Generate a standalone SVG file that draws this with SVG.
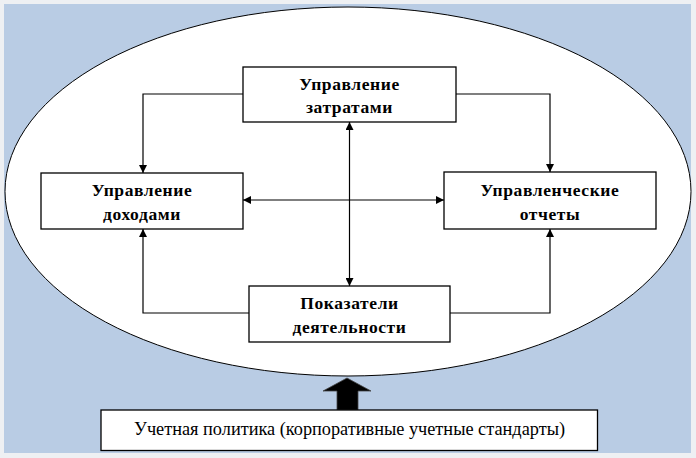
<svg xmlns="http://www.w3.org/2000/svg" width="696" height="458" viewBox="0 0 696 458">
<defs>
<style>
.box{fill:#fff;stroke:#000;stroke-width:1.3}
.lbl{font-weight:bold;font-size:17.5px;fill:#000;text-anchor:middle;letter-spacing:0.6px}
.pol{font-size:18.3px;fill:#000;text-anchor:middle}
.ln{fill:none;stroke:#000;stroke-width:1.2}
</style>
<marker id="ah" viewBox="0 0 10 10" refX="10" refY="5" markerWidth="8" markerHeight="8" markerUnits="userSpaceOnUse" orient="auto-start-reverse">
<path d="M0,0 L10,5 L0,10 Z" fill="#000"/>
</marker>
</defs>
<rect x="0" y="0" width="696" height="458" fill="#eef0f3"/>
<rect x="4" y="4" width="687" height="449" fill="#b9cce4"/>
<ellipse id="scope" cx="348" cy="191.5" rx="343" ry="184.5" fill="#fff" stroke="#000" stroke-width="1"/>
<g id="connectors">
<path class="ln" d="M243,94 H143 V173" marker-end="url(#ah)"/>
<path class="ln" d="M456,94 H550 V172" marker-end="url(#ah)"/>
<path class="ln" d="M349.5,122 V286" marker-start="url(#ah)" marker-end="url(#ah)"/>
<path class="ln" d="M243,200 H444" marker-start="url(#ah)" marker-end="url(#ah)"/>
<path class="ln" d="M249,313 H143 V229" marker-end="url(#ah)"/>
<path class="ln" d="M450,313 H550 V229" marker-end="url(#ah)"/>
<polygon points="347,378 371,391 358,391 358,410 337,410 337,391 323,391" fill="#000" stroke="#444" stroke-width="0.8"/>
</g>
<g font-family="Liberation Serif, DejaVu Serif, serif">
<g id="costs">
<rect class="box" x="243" y="67" width="213" height="55"/>
<text class="lbl" x="349.5" y="90">Управление</text>
<text class="lbl" x="349.5" y="113">затратами</text>
</g>
<g id="income">
<rect class="box" x="41" y="173" width="202" height="56"/>
<text class="lbl" x="142" y="196">Управление</text>
<text class="lbl" x="142" y="220">доходами</text>
</g>
<g id="reports">
<rect class="box" x="444" y="172" width="212" height="57"/>
<text class="lbl" x="550" y="196">Управленческие</text>
<text class="lbl" x="550" y="220">отчеты</text>
</g>
<g id="indicators">
<rect class="box" x="249" y="286" width="201" height="56"/>
<text class="lbl" x="349.5" y="309">Показатели</text>
<text class="lbl" x="349.5" y="333">деятельности</text>
</g>
<g id="policy">
<rect class="box" x="101" y="410" width="496.5" height="40.5"/>
<text class="pol" x="349.5" y="435">Учетная политика (корпоративные учетные стандарты)</text>
</g>
</g>
</svg>
